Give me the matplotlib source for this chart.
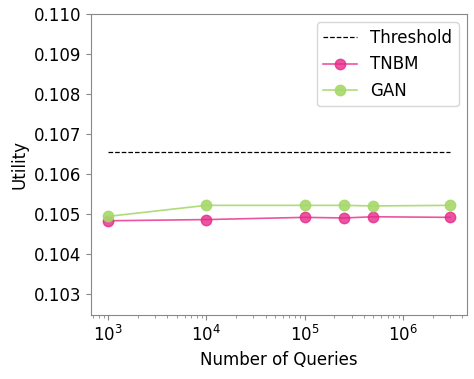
import numpy as np
import matplotlib.pyplot as plt

# values
queries = [1e3, 1e4, 1e5, 2.5e5, 5e5, 3e6]
tnbm = [0.10484, 0.10487, 0.104925, 0.10491, 0.10494, 0.104925]
gan = [0.10495, 0.105225, 0.105225, 0.105225, 0.10521, 0.105225]
threshold = 0.10655

fig, ax = plt.subplots(figsize=(4.74, 3.79), dpi=100)

ax.hlines(threshold, queries[0], queries[-1], colors='black', linestyles='--',
          linewidth=0.9, label='Threshold')
ax.plot(queries, tnbm, color='#e7298a', marker='o', markersize=7.5, alpha=0.8,
        linewidth=1.2, label='TNBM')
ax.plot(queries, gan, color='#a6d96a', marker='o', markersize=7.5, alpha=0.9,
        linewidth=1.2, label='GAN')

ax.set_xscale('log')
ax.set_xlim(10**2.826, 10**6.65)
ax.set_ylim(0.10248, 0.110)
ax.set_yticks([0.103, 0.104, 0.105, 0.106, 0.107, 0.108, 0.109, 0.110])
ax.set_yticklabels(['0.103', '0.104', '0.105', '0.106', '0.107', '0.108', '0.109', '0.110'])

for s in ax.spines.values():
    s.set_color('#888888')
ax.tick_params(colors='#888888', labelcolor='black', labelsize=12)
ax.tick_params(which='minor', colors='#888888')

ax.set_xlabel('Number of Queries', fontsize=12)
ax.set_ylabel('Utility', fontsize=12)
ax.legend(fontsize=12, loc='upper right')

plt.subplots_adjust(left=0.192, right=0.985, top=0.963, bottom=0.168)
plt.savefig('out.png')
